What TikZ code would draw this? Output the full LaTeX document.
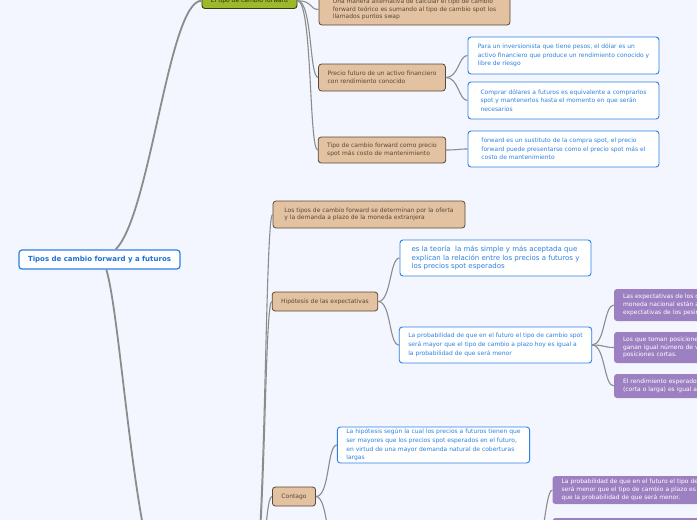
\documentclass[tikz,border=0pt]{standalone}
\usepackage{fontspec}
\newfontfamily\dv{DejaVu Sans}
\definecolor{bgc}{HTML}{F3F6FE}
\definecolor{tanF}{HTML}{E2C2A0}
\definecolor{tanB}{HTML}{5A4836}
\definecolor{tanT}{HTML}{5A483A}
\definecolor{grF}{HTML}{9CB82C}
\definecolor{grB}{HTML}{33400E}
\definecolor{grT}{HTML}{2A3308}
\definecolor{bluB}{HTML}{2A80E4}
\definecolor{bluT}{HTML}{2F82DC}
\definecolor{rootT}{HTML}{1D6FD6}
\definecolor{purF}{HTML}{9D80C2}
\definecolor{lineC}{HTML}{8C8C8C}
\newcommand\mmbox[7]{%
 \pgfmathsetmacro\mbw{#5-#3}%
 \pgfmathsetmacro\mbh{#6-#4}%
 \pgfmathsetmacro\mbx{(#3+#5)/2}%
 \pgfmathsetmacro\mby{(#4+#6)/2}%
 \node[#2, minimum width=\mbw pt, minimum height=\mbh pt] (#1) at (\mbx,\mby) {#7};}
\tikzset{
 mbase/.style={rounded corners=3pt, inner xsep=9pt, inner ysep=0pt, align=left},
 tanbox/.style={mbase, draw=tanB, fill=tanF, text=tanT, line width=0.8pt, font=\dv\fontsize{6}{7.6}\selectfont},
 greenbox/.style={mbase, draw=grB, fill=grF, text=grT, line width=0.9pt, font=\dv\fontsize{6}{7.6}\selectfont},
 bluebox/.style={mbase, draw=bluB, fill=white, text=bluT, line width=0.9pt, font=\dv\fontsize{6}{8.7}\selectfont},
 bigblue/.style={bluebox, font=\dv\fontsize{7}{8.6}\selectfont},
 rootbox/.style={mbase, draw=bluB, fill=white, text=rootT, line width=1.2pt, font=\dv\bfseries\fontsize{7}{8}\selectfont},
 purbox/.style={mbase, fill=purF, text=white, font=\dv\fontsize{6}{7.8}\selectfont, text width=220pt},
 conn/.style={draw=lineC, line width=1.1pt},
 rootconn/.style={draw=lineC, line width=1.8pt}
}
\begin{document}
\begin{tikzpicture}[x=1pt,y=-1pt]
\useasboundingbox (0,0) rectangle (697,520);
\clip (0,0) rectangle (697,520);
\fill[bgc] (-5,-5) rectangle (702,525);

% hidden parents below the view
\coordinate (hpw) at (172,600);
\coordinate (hpe) at (250,600);
\coordinate (cc) at (338,575);
\coordinate (pp) at (529,570);

\mmbox{root}{rootbox}{20}{250}{179}{269}{Tipos de cambio forward y a futuros}
\mmbox{gr}{greenbox}{203}{-7}{296}{8.5}{El tipo de cambio forward}

\mmbox{t1}{tanbox}{319}{-6}{510}{25}{Una manera alternativa de calcular el tipo de cambio\\forward teórico es sumando al tipo de cambio spot los\\llamados puntos swap}
\mmbox{t2}{tanbox}{319}{64}{445}{91}{Precio futuro de un activo financiero\\con rendimiento conocido}
\mmbox{t3}{tanbox}{319}{137}{445}{163}{Tipo de cambio forward como precio\\spot más costo de mantenimiento}

\mmbox{b2a}{bluebox}{468}{37}{659}{74}{Para un inversionista que tiene pesos, el dólar es un\\activo financiero que produce un rendimiento conocido y\\libre de riesgo}
\mmbox{b2b}{bluebox}{468}{82}{659}{119}{Comprar dólares a futuros es equivalente a comprarlos\\spot y mantenerlos hasta el momento en que serán\\necesarios}
\mmbox{b3a}{bluebox}{468}{131}{659}{167}{forward es un sustituto de la compra spot, el precio\\forward puede presentarse como el precio spot más el\\costo de mantenimiento}

\mmbox{lt1}{tanbox}{273}{201}{465}{228}{Los tipos de cambio forward se determinan por la oferta\\y la demanda a plazo de la moneda extranjera}
\mmbox{hyp}{tanbox}{273}{292}{377}{311}{Hipótesis de las expectativas}
\mmbox{hb1}{bigblue}{400}{240}{591}{276}{es la teoría\ \ la más simple y más aceptada que\\explican la relación entre los precios a futuros y\\los precios spot esperados}
\mmbox{hb2}{bluebox}{400}{327}{591}{363}{La probabilidad de que en el futuro el tipo de cambio spot\\será mayor que el tipo de cambio a plazo hoy es igual a\\la probabilidad de que será menor}

\mmbox{p1}{purbox}{616}{289}{850}{321}{Las expectativas de los compradores de\\moneda nacional están a la par de las\\expectativas de los pesimistas}
\mmbox{p2}{purbox}{616}{332}{850}{363}{Los que toman posiciones largas\\ganan igual número de veces que las\\posiciones cortas.}
\mmbox{p3}{purbox}{616}{374}{850}{398}{El rendimiento esperado de cualquier posición\\(corta o larga) es igual a cero}

\mmbox{con}{tanbox}{273}{487}{315}{506}{Contago}
\mmbox{cb1}{bluebox}{338}{427}{529}{463}{La hipótesis según la cual los precios a futuros tienen que\\ser mayores que los precios spot esperados en el futuro,\\en virtud de una mayor demanda natural de coberturas\\largas}

\mmbox{p4}{purbox}{553}{476}{790}{504}{La probabilidad de que en el futuro el tipo de cambio spot\\será menor que el tipo de cambio a plazo es igual\\que la probabilidad de que será menor.}
\mmbox{p5}{purbox}{553}{518}{790}{548}{La probabilidad}

% connectors
\draw[rootconn] (root.32) .. controls +(35,-35) and +(-33,0) .. (gr.west);
\draw[rootconn] (root.-56) .. controls +(16,52) and +(-35,0) .. (hpw);

\draw[conn] (gr.east) .. controls +(15,0) and +(-9,0) .. (t1.west);
\draw[conn] (gr.east) .. controls +(15,0) and +(-9,0) .. (t2.west);
\draw[conn] (gr.east) .. controls +(15,0) and +(-9,0) .. (t3.west);

\draw[conn] (t2.east) .. controls +(13,0) and +(-9,0) .. (b2a.west);
\draw[conn] (t2.east) .. controls +(13,0) and +(-9,0) .. (b2b.west);
\draw[conn] (t3.east) .. controls +(12,0) and +(-10,0) .. (b3a.west);

\draw[conn] (hpe) .. controls +(16,0) and +(-8,0) .. (lt1.west);
\draw[conn] (hpe) .. controls +(16,0) and +(-8,0) .. (hyp.west);
\draw[conn] (hpe) .. controls +(16,0) and +(-8,0) .. (con.west);

\draw[conn] (hyp.east) .. controls +(13,0) and +(-10,0) .. (hb1.west);
\draw[conn] (hyp.east) .. controls +(13,0) and +(-10,0) .. (hb2.west);

\draw[conn] (hb2.east) .. controls +(13,0) and +(-10,0) .. (p1.west);
\draw[conn] (hb2.east) .. controls +(13,0) and +(-10,0) .. (p2.west);
\draw[conn] (hb2.east) .. controls +(13,0) and +(-10,0) .. (p3.west);

\draw[conn] (con.east) .. controls +(14,0) and +(-10,0) .. (cb1.west);
\draw[conn] (con.east) .. controls +(14,0) and +(-10,0) .. (cc);

\draw[conn] (pp) .. controls +(14,0) and +(-8,0) .. (p4.west);
\draw[conn] (pp) .. controls +(14,0) and +(-8,0) .. (p5.west);
\end{tikzpicture}
\end{document}
